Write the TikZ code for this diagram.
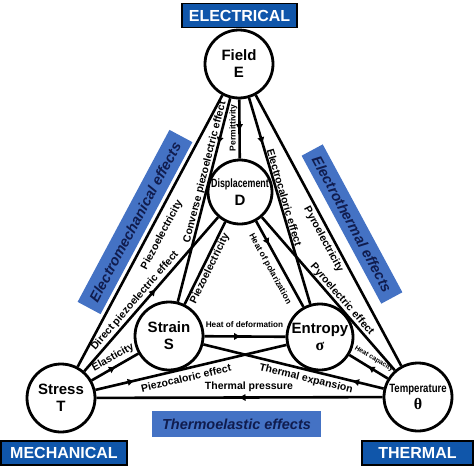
\documentclass[tikz,border=0pt]{standalone}
\usepackage{fontspec}
\setmainfont{Liberation Sans}
\newfontfamily\grk{Liberation Serif}
\usepackage{graphicx}
\usetikzlibrary{decorations.markings,arrows.meta}
\definecolor{catblue}{RGB}{16,86,170}
\definecolor{effblue}{RGB}{68,114,196}
\definecolor{effnavy}{RGB}{16,28,78}
\begin{document}
\begin{tikzpicture}[x=1pt,y=-1pt,
  state/.style={circle,draw,fill=white,line width=2.8pt,inner sep=0pt,minimum size=68pt,align=center,font=\fontsize{15}{17}\selectfont\bfseries},
  link/.style={line width=2.6pt},
  lbl/.style={font=\fontsize{10.5}{10.5}\selectfont\bfseries,inner sep=0pt},
  smalllbl/.style={font=\fontsize{#1}{#1}\selectfont\bfseries,inner sep=0pt},
  cat/.style={fill=catblue,draw=black,line width=1.6pt,text=white,font=\fontsize{16}{16}\selectfont\bfseries,inner sep=0pt,minimum height=24pt},
  eff/.style={fill=effblue,text=effnavy,font=\fontsize{14.5}{14.5}\selectfont\bfseries\itshape,inner sep=0pt,minimum height=26pt},
  mid/.style={postaction={decorate},decoration={markings,mark=at position #1 with {\arrow{Triangle[length=6pt,width=6.5pt]}}}},
]
\useasboundingbox (0,0) rectangle (474,474);

% category boxes
\node[cat,minimum width=115pt] (elec) at (239.5,15.5) {ELECTRICAL};
\node[cat,minimum width=126pt] (mech) at (64,453) {MECHANICAL};
\node[cat,minimum width=111pt] (therm) at (417.5,453) {THERMAL};
\node[eff,minimum width=169pt] (thel) at (236.5,424) {Thermoelastic effects};
\node[eff,minimum width=195pt,rotate=61.9] (elme) at (135,222) {Electromechanical effects};
\node[eff,minimum width=168pt,minimum height=24pt,rotate=-61.7] (elth) at (352,224) {Electrothermal effects};

% state nodes
\node[state] (E) at (239,64) {Field\\E};
\node[state,minimum size=64pt] (D) at (240,192) {\fontsize{12}{12}\selectfont\scalebox{0.74}[1]{Displacement}\\[1pt]D};
\node[state] (S) at (169,336) {Strain\\S};
\node[state,minimum size=66pt] (Sg) at (320,337) {Entropy\\{\grk\fontsize{16}{16}\selectfont σ}};
\node[state] (T) at (61,398) {Stress\\T};
\node[state] (Th) at (418,397) {\fontsize{12}{12}\selectfont\scalebox{0.8}[1]{Temperature}\\{\grk\fontsize{16}{16}\selectfont θ}};

% connectors
\draw[link] (E) -- (T);
\draw[link] (E) -- (Th);
\draw[link,mid=0.5] (Th) -- (T);
\draw[link,mid=0.52] (E) -- (D);
\draw[link,mid=0.22] (E) -- (S);
\draw[link,mid=0.22] (E) -- (Sg);
\draw[link,mid=0.53] (T) -- (D);
\draw[link] (D) -- (S);
\draw[link,mid=0.27] (D) -- (Sg);
\draw[link] (D) -- (Th);
\draw[link,mid=0.5] (T) -- (S);
\draw[link,mid=0.2] (T) -- (Sg);
\draw[link,mid=0.44] (S) -- (Sg);
\draw[link,mid=0.17] (Th) -- (S);
\draw[link,mid=0.5] (Th) -- (Sg);

% connector labels
\node[lbl,rotate=61.9] (l1) at (162,235) {Piezoelectricity};
\node[lbl,rotate=49] (l2) at (135,301) {Direct piezoelectric effect};
\node[lbl,rotate=75.6] (l3) at (205,172) {Converse piezoelectric effect};
\node[smalllbl=8.5,rotate=90] (l4) at (233.5,128) {Permittivity};
\node[lbl,rotate=-73.5] (l5) at (284.5,197.5) {Electrocaloric effect};
\node[smalllbl=8.5,rotate=-61.1] (l6) at (270,269) {Heat of polarization};
\node[lbl,rotate=63.9] (l7) at (210,268.5) {Piezoelectricity};
\node[lbl,rotate=-61.7] (l8) at (323.5,239.5) {Pyroelectricity};
\node[lbl,rotate=-49] (l9) at (342,299.5) {Pyroelectric effect};
\node[smalllbl=6.8,rotate=-31.5] (l10) at (374,359) {Heat capacity};
\node[smalllbl=8.2] (l11) at (244.5,325) {Heat of deformation};
\node[lbl,rotate=29.5] (l12) at (113,357.5) {Elasticity};
\node[lbl,rotate=13.3] (l13) at (186,378) {Piezocaloric effect};
\node[lbl,rotate=-13.8] (l14) at (306,379) {Thermal expansion};
\node[lbl] (l15) at (249,387) {Thermal pressure};
\end{tikzpicture}
\end{document}
